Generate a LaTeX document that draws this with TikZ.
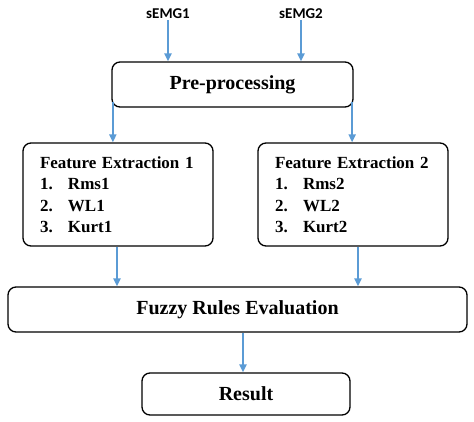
\documentclass[tikz,border=0pt]{standalone}
\usepackage{fontspec}
\setmainfont{Liberation Serif}
\newfontfamily\labelfont{Carlito}
\usepackage{tikz}
\usetikzlibrary{arrows.meta,positioning}
\definecolor{arrowblue}{HTML}{5B9BD5}

\begin{document}
\begin{tikzpicture}
[
x=1pt, y=-1pt,
block/.style={rectangle, rounded corners=8pt, draw=black, line width=1.3pt, font=\bfseries\fontsize{20}{24}\selectfont, inner sep=0pt},
featbox/.style={block, font=\bfseries\fontsize{17}{21.5}\selectfont, align=left, text width=156pt, inner xsep=17pt, minimum height=103pt},
signal/.style={font=\labelfont\bfseries\fontsize{15}{18}\selectfont, inner sep=1pt},
flow/.style={draw=arrowblue, line width=2pt, -{Triangle[width=7pt,length=8pt]}}
]
\useasboundingbox (0,0) rectangle (474,421);
\newcommand{\itm}[2]{\makebox[28pt][l]{#1}#2}
%Nodes
\node[signal]   (semga)     at (168,14)     {sEMG1};
\node[signal]   (semgb)     at (301,14)     {sEMG2};
\node[block, minimum width=241pt, minimum height=45pt]   (pre)    at (232.5,84.5)  {Pre-processing};
\node[featbox]  (fea)       at (118,194.5)  {Feature Extraction 1\\ \itm{1.}{Rms1}\\ \itm{2.}{WL1}\\ \itm{3.}{Kurt1}};
\node[featbox]  (feb)       at (353,194.5)  {Feature Extraction 2\\ \itm{1.}{Rms2}\\ \itm{2.}{WL2}\\ \itm{3.}{Kurt2}};
\node[block, minimum width=459pt, minimum height=45pt]   (fuzzy)  at (237.5,309.5) {Fuzzy Rules Evaluation};
\node[block, minimum width=208pt, minimum height=42pt]   (result) at (246,394)     {Result};

%Lines
\draw[flow] (semga.south) -- (semga.south |- pre.north);
\draw[flow] (semgb.south) -- (semgb.south |- pre.north);
\draw[flow] ([xshift=1.5pt,yshift=6pt]pre.south west) -- ([xshift=1.5pt]pre.south west |- fea.north);
\draw[flow] ([xshift=-1.5pt,yshift=6pt]pre.south east) -- ([xshift=-1.5pt]pre.south east |- feb.north);
\draw[flow] ([xshift=-1pt]fea.south) -- ([xshift=-1pt]fea.south |- fuzzy.north);
\draw[flow] ([xshift=5pt]feb.south) -- ([xshift=5pt]feb.south |- fuzzy.north);
\draw[flow] ([xshift=-3pt]result.north |- fuzzy.south) -- ([xshift=-3pt]result.north);

\end{tikzpicture}
\end{document}
